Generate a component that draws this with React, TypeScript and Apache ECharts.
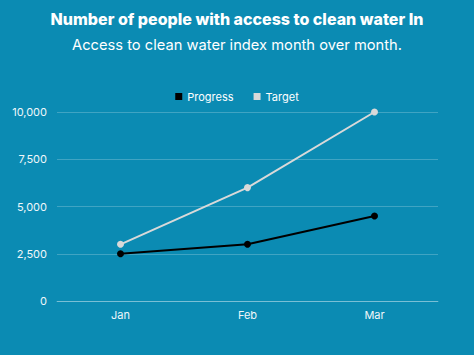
import React, { useEffect, useRef } from "react";
import * as echarts from "echarts";

const categories = ["Jan", "Feb", "Mar"];
const progress = [2500, 3000, 4500];
const target = [3000, 6000, 10000];
const yTicks = [0, 2500, 5000, 7500, 10000];

export default function App() {
  const ref = useRef<HTMLDivElement>(null);
  useEffect(() => {
    const chart = echarts.init(ref.current!, null, { renderer: "svg" });
    const font = "Inter, 'Open Sans', sans-serif";
    chart.setOption({
      animation: false,
      backgroundColor: "#0b8bb3",
      title: [
        {
          text: "Number of people with access to clean water In",
          left: "center",
          top: 6,
          textStyle: { color: "#ffffff", fontSize: 16, fontWeight: 800, fontFamily: font },
        },
        {
          text: "Access to clean water index month over month.",
          left: "center",
          top: 32,
          textStyle: { color: "#ffffff", fontSize: 14.7, fontWeight: 400, fontFamily: font },
        },
      ],
      legend: {
        top: 86,
        left: "center",
        icon: "rect",
        itemWidth: 7,
        itemHeight: 7,
        itemGap: 20,
        textStyle: { color: "#ffffff", fontSize: 11, fontFamily: font },
        data: ["Progress", "Target"],
      },
      grid: { left: 57, right: 36, top: 112, bottom: 54 },
      xAxis: {
        type: "category",
        data: categories,
        boundaryGap: true,
        axisLine: { lineStyle: { color: "rgba(255,255,255,0.3)" } },
        axisTick: { show: false },
        axisLabel: { color: "#f0f7fa", fontSize: 11, fontFamily: font, margin: 8 },
      },
      yAxis: {
        type: "value",
        min: yTicks[0],
        max: yTicks[yTicks.length - 1],
        interval: 2500,
        axisLine: { show: false },
        axisTick: { show: false },
        splitLine: { lineStyle: { color: "rgba(255,255,255,0.22)" } },
        axisLabel: {
          color: "#f0f7fa",
          fontSize: 11,
          fontFamily: font,
          margin: 10,
          formatter: (v: number) => v.toLocaleString("en-US"),
        },
      },
      series: [
        {
          name: "Progress",
          type: "line",
          data: progress,
          symbol: "circle",
          symbolSize: 7,
          itemStyle: { color: "#000000" },
          lineStyle: { color: "#000000", width: 2 },
        },
        {
          name: "Target",
          type: "line",
          data: target,
          symbol: "circle",
          symbolSize: 7,
          itemStyle: { color: "#d9d9d9" },
          lineStyle: { color: "#d9d9d9", width: 2 },
        },
      ],
    });
    return () => chart.dispose();
  }, []);
  return (
    <div
      ref={ref}
      style={{ position: "fixed", left: 0, top: 0, width: 474, height: 355 }}
    />
  );
}
